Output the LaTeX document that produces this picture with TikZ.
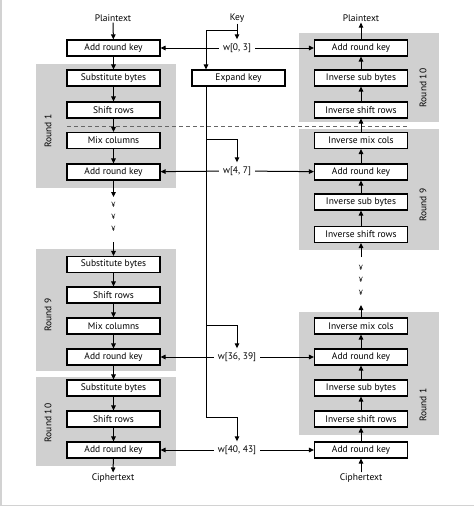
\documentclass[tikz,border=0pt]{standalone}
\usepackage{fontspec}
\setmainfont{PT Sans}
\usetikzlibrary{arrows.meta}
\definecolor{roundgray}{RGB}{208,208,208}
\begin{document}
\begin{tikzpicture}[x=1pt,y=-1pt,
  opbox/.style={draw,line width=1.1pt,fill=white,minimum width=93pt,minimum height=16pt,inner sep=0pt,font=\fontsize{9.5}{10}\selectfont},
  roundbg/.style={fill=roundgray,draw=none,inner sep=0pt},
  lbl/.style={inner sep=1pt,font=\fontsize{9.5}{10}\selectfont},
  wlbl/.style={inner sep=4pt,font=\fontsize{9.5}{10}\selectfont},
  rlbl/.style={rotate=90,inner sep=0pt,font=\fontsize{9.5}{10}\selectfont},
  dotlbl/.style={inner sep=0pt,font=\fontsize{7.5}{8}\selectfont},
  arr/.style={line width=1pt,-{Triangle[length=5pt,width=4.5pt]}},
  ln/.style={line width=1pt}]
\useasboundingbox (0,0) rectangle (474,507);
\draw[gray!35,line width=1.5pt] (1,0) -- (1,505.5) -- (474,505.5);
% round backgrounds
\node[roundbg,minimum width=140pt,minimum height=124pt] (gL1) at (106,126) {};
\node[roundbg,minimum width=140pt,minimum height=122pt] (gL9) at (106,310) {};
\node[roundbg,minimum width=140pt,minimum height=89pt] (gL10) at (106,421.5) {};
\node[roundbg,minimum width=140pt,minimum height=89pt] (gR10) at (369,77.5) {};
\node[roundbg,minimum width=140pt,minimum height=121pt] (gR9) at (369,189.5) {};
\node[roundbg,minimum width=140pt,minimum height=123pt] (gR1) at (369,373.5) {};
% round labels
\node[rlbl] (tL1) at (48,131) {Round 1};
\node[rlbl] (tL9) at (48,315) {Round 9};
\node[rlbl] (tL10) at (48,423) {Round 10};
\node[rlbl] (tR10) at (423,88) {Round 10};
\node[rlbl] (tR9) at (423,205) {Round 9};
\node[rlbl] (tR1) at (423,405) {Round 1};
% dashed separator
\draw[dashed,gray!80!black,line width=0.7pt,dash pattern=on 4pt off 3pt] (67,126) -- (407,126);
% left column
\node[lbl] (ptL) at (113,18) {Plaintext};
\node[opbox] (L0) at (113.5,48) {Add round key};
\node[opbox] (L1) at (113.5,78) {Substitute bytes};
\node[opbox] (L2) at (113.5,110) {Shift rows};
\node[opbox] (L3) at (113.5,140.5) {Mix columns};
\node[opbox] (L4) at (113.5,172) {Add round key};
\node[opbox] (L5) at (113.5,264.5) {Substitute bytes};
\node[opbox] (L6) at (113.5,295) {Shift rows};
\node[opbox] (L7) at (113.5,326) {Mix columns};
\node[opbox] (L8) at (113.5,357) {Add round key};
\node[opbox] (L9) at (113.5,388) {Substitute bytes};
\node[opbox] (L10) at (113.5,419) {Shift rows};
\node[opbox] (L11) at (113.5,450) {Add round key};
\node[lbl] (ctL) at (113,478) {Ciphertext};
\node[dotlbl] (dL1) at (113.5,205) {¥};
\node[dotlbl] (dL2) at (113.5,217) {¥};
\node[dotlbl] (dL3) at (113.5,229) {¥};
\coordinate (la) at (113.5,197);
\coordinate (lb) at (113.5,242);
\draw[arr] (ptL) -- (L0);
\draw[arr] (L0) -- (L1);
\draw[arr] (L1) -- (L2);
\draw[arr] (L2) -- (L3);
\draw[arr] (L3) -- (L4);
\draw[arr] (L4) -- (la);
\draw[arr] (lb) -- (L5);
\draw[arr] (L5) -- (L6);
\draw[arr] (L6) -- (L7);
\draw[arr] (L7) -- (L8);
\draw[arr] (L8) -- (L9);
\draw[arr] (L9) -- (L10);
\draw[arr] (L10) -- (L11);
\draw[arr] (L11) -- (ctL);
% right column
\node[lbl] (ptR) at (361,18) {Plaintext};
\node[opbox] (R0) at (361,48) {Add round key};
\node[opbox] (R1) at (361,78) {Inverse sub bytes};
\node[opbox] (R2) at (361,110) {Inverse shift rows};
\node[opbox] (R3) at (361,140.5) {Inverse mix cols};
\node[opbox] (R4) at (361,172) {Add round key};
\node[opbox] (R5) at (361,202) {Inverse sub bytes};
\node[opbox] (R6) at (361,234.5) {Inverse shift rows};
\node[opbox] (R7) at (361,326) {Inverse mix cols};
\node[opbox] (R8) at (361,357) {Add round key};
\node[opbox] (R9) at (361,388) {Inverse sub bytes};
\node[opbox] (R10) at (361,419) {Inverse shift rows};
\node[opbox] (R11) at (361,450) {Add round key};
\node[lbl] (ctR) at (361,478) {Ciphertext};
\node[dotlbl] (dR1) at (361,268) {¥};
\node[dotlbl] (dR2) at (361,280) {¥};
\node[dotlbl] (dR3) at (361,293) {¥};
\coordinate (ra) at (361,257);
\coordinate (rb) at (361,305);
\draw[arr] (R0) -- (ptR);
\draw[arr] (R1) -- (R0);
\draw[arr] (R2) -- (R1);
\draw[arr] (R3) -- (R2);
\draw[arr] (R4) -- (R3);
\draw[arr] (R5) -- (R4);
\draw[arr] (R6) -- (R5);
\draw[arr] (ra) -- (R6);
\draw[arr] (R7) -- (rb);
\draw[arr] (R8) -- (R7);
\draw[arr] (R9) -- (R8);
\draw[arr] (R10) -- (R9);
\draw[arr] (R11) -- (R10);
\draw[arr] (ctR) -- (R11);
% key schedule
\node[lbl] (key) at (237,18) {Key};
\node[opbox] (expand) at (238.5,78) {Expand key};
\node[wlbl] (w0) at (237,48) {w[0, 3]};
\node[wlbl] (w1) at (237,171) {w[4, 7]};
\node[wlbl] (w2) at (237,357) {w[36, 39]};
\node[wlbl] (w3) at (237,450) {w[40, 43]};
\coordinate (kj) at (237,30);
\coordinate (kb0) at (206,30);
\coordinate (ks1) at (206,139);
\coordinate (ks2) at (206,325);
\coordinate (ks3) at (206,417);
\draw[arr] (key) -- (w0);
\draw[arr] (kj) -- (kb0) -- (kb0 |- expand.north);
\draw[ln] (kb0 |- expand.south) -- (ks3);
\draw[arr] (ks1) -| (w1);
\draw[arr] (ks2) -| (w2);
\draw[arr] (ks3) -| (w3);
\draw[arr] (w0) -- (L0);
\draw[arr] (w0) -- (R0);
\draw[arr] (w1) -- (L4);
\draw[arr] (w1) -- (R4);
\draw[arr] (w2) -- (L8);
\draw[arr] (w2) -- (R8);
\draw[arr] (w3) -- (L11);
\draw[arr] (w3) -- (R11);
\end{tikzpicture}
\end{document}
